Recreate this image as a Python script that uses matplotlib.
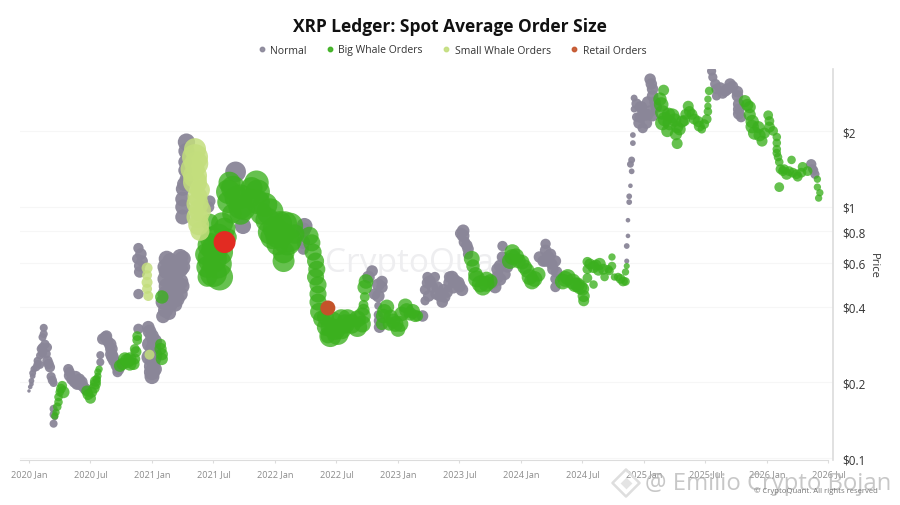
import matplotlib
matplotlib.use("Agg")
import matplotlib.pyplot as plt
from matplotlib.lines import Line2D

plt.rcParams['font.family'] = ['Open Sans', 'DejaVu Sans']

title = "XRP Ledger: Spot Average Order Size"
x_ticks = [2020.0, 2020.5, 2021.0, 2021.5, 2022.0, 2022.5, 2023.0, 2023.5, 2024.0, 2024.5, 2025.0, 2025.5, 2026.0, 2026.5]
x_labels = ["2020 Jan", "2020 Jul", "2021 Jan", "2021 Jul", "2022 Jan", "2022 Jul", "2023 Jan", "2023 Jul", "2024 Jan", "2024 Jul", "2025 Jan", "2025 Jul", "2026 Jan", "2026 Jul"]
y_ticks = [0.1, 0.2, 0.4, 0.6, 0.8, 1, 2]
y_labels = ["$0.1", "$0.2", "$0.4", "$0.6", "$0.8", "$1", "$2"]

normal_date = [
    2020.00, 2020.01, 2020.02, 2020.03, 2020.04, 2020.07, 2020.09, 2020.11, 2020.11, 2020.12,
    2020.15, 2020.15, 2020.17, 2020.19, 2020.20, 2020.20, 2020.21, 2020.33, 2020.35, 2020.39,
    2020.41, 2020.44, 2020.58, 2020.58, 2020.60, 2020.63, 2020.66, 2020.68, 2020.71, 2020.72,
    2020.89, 2020.97, 2021.00, 2021.01, 2021.00, 2021.00, 2021.01, 2020.89, 2020.92, 2020.90,
    2020.91, 2020.89, 2021.09, 2021.09, 2021.12, 2021.12, 2021.12, 2021.16, 2021.16, 2021.20,
    2021.23, 2021.24, 2021.25, 2021.19, 2021.15, 2021.21, 2021.28, 2021.27, 2021.28, 2021.25,
    2021.25, 2021.25, 2021.47, 2021.68, 2021.74, 2022.24, 2022.23, 2022.76, 2022.84, 2022.84,
    2022.84, 2022.85, 2023.20, 2023.22, 2023.22, 2023.24, 2023.30, 2023.28, 2023.34, 2023.36,
    2023.40, 2023.44, 2023.45, 2023.49, 2023.52, 2023.53, 2023.54, 2023.57, 2023.79, 2023.83,
    2023.85, 2023.89, 2023.81, 2024.20, 2024.20, 2024.28, 2024.24, 2024.29, 2024.28, 2024.15,
    2024.86, 2024.86, 2024.87, 2024.87, 2024.88, 2024.88, 2024.89, 2024.90, 2024.89, 2024.90,
    2024.91, 2024.91, 2024.92, 2024.92, 2024.94, 2024.99, 2024.97, 2024.98, 2025.03, 2025.05,
    2025.07, 2025.09, 2025.07, 2025.55, 2025.58, 2025.59, 2025.66, 2025.70, 2025.62, 2025.76,
    2025.77, 2025.77, 2026.36, 2026.39,
]
normal_price = [
    0.185, 0.192, 0.203, 0.212, 0.226, 0.237, 0.256, 0.276, 0.303, 0.330,
    0.276, 0.244, 0.230, 0.204, 0.157, 0.137, 0.146, 0.220, 0.206, 0.197,
    0.206, 0.193, 0.257, 0.241, 0.298, 0.306, 0.284, 0.252, 0.234, 0.220,
    0.327, 0.332, 0.306, 0.272, 0.232, 0.211, 0.248, 0.686, 0.609, 0.551,
    0.650, 0.450, 0.367, 0.418, 0.484, 0.622, 0.555, 0.531, 0.450, 0.430,
    0.565, 0.484, 0.622, 0.472, 0.410, 0.494, 1.814, 1.511, 1.290, 1.075,
    0.912, 1.180, 1.055, 1.380, 0.840, 0.840, 0.725, 0.526, 0.490, 0.442,
    0.404, 0.332, 0.368, 0.423, 0.468, 0.526, 0.526, 0.479, 0.442, 0.418,
    0.458, 0.526, 0.479, 0.499, 0.468, 0.804, 0.725, 0.680, 0.480, 0.582,
    0.699, 0.577, 0.526, 0.713, 0.609, 0.609, 0.648, 0.551, 0.480, 0.632,
    0.609, 0.699, 0.767, 0.886, 1.046, 1.103, 1.215, 1.387, 1.480, 1.539,
    1.797, 1.935, 2.716, 2.455, 2.280, 2.063, 2.280, 2.500, 2.620, 3.230,
    2.950, 2.620, 2.310, 3.480, 3.090, 2.770, 2.900, 3.090, 2.980, 2.880,
    2.350, 2.570, 1.480, 1.350,
]
normal_volume = [
    1.5, 2, 2.5, 2.5, 3, 3.5, 3.5, 4, 3.5, 3.5,
    4, 4.5, 4.5, 4, 3.5, 3.5, 3, 4.5, 5, 5,
    5, 5, 3.5, 3.5, 5, 5, 5.5, 5.5, 5, 4.5,
    4.5, 5.5, 6, 7, 7, 6.5, 7, 4.5, 5, 5,
    5, 4.5, 6, 6.5, 7, 7, 7, 7, 7, 7,
    7, 7, 7, 7, 6.5, 7, 7.5, 6, 6, 6.5,
    6.5, 6, 5, 9, 7, 7, 6, 5.5, 5.5, 5.5,
    3.5, 5, 5, 4, 4.5, 4.5, 4.5, 5, 5, 5,
    5, 5.5, 5.5, 5.5, 5.5, 5.5, 5, 5, 5.5, 5.5,
    4.5, 5, 5.5, 4.5, 5, 5, 5, 5, 4.5, 5,
    2.2, 2.5, 2, 2, 2.5, 2.5, 2, 2.5, 3, 3,
    2.5, 2.5, 3, 3, 4, 4.5, 5, 5, 5, 5,
    5, 5, 5, 4, 4.5, 4, 5, 5, 5, 5,
    5, 5, 4.5, 4,
]

# further gray readings along the same runs
normal_date_more = [
    2020.02, 2020.03, 2020.06, 2020.07, 2020.09, 2020.11, 2020.10, 2020.13, 2020.14, 2020.16,
    2020.12, 2020.18, 2020.20, 2020.20, 2020.33, 2020.37, 2020.38, 2020.41, 2020.43, 2020.46,
    2020.32, 2020.62, 2020.64, 2020.67, 2020.67, 2020.69, 2020.72, 2020.73, 2020.98, 2021.02,
    2020.98, 2021.02, 2020.98, 2021.00, 2021.02, 2020.90, 2020.88, 2021.11, 2021.14, 2021.11,
    2021.15, 2021.11, 2021.15, 2021.11, 2021.19, 2021.19, 2021.23, 2021.25, 2021.23, 2021.23,
    2021.19, 2021.14, 2021.28, 2021.27, 2021.26, 2021.25, 2021.46, 2022.23, 2022.23, 2022.79,
    2022.87, 2022.81, 2022.87, 2022.84, 2022.85, 2023.24, 2023.26, 2023.32, 2023.31, 2023.38,
    2023.42, 2023.42, 2023.46, 2023.50, 2023.37, 2023.25, 2023.53, 2023.56, 2023.57, 2023.51,
    2023.77, 2023.81, 2023.85, 2023.87, 2023.83, 2023.88, 2024.20, 2024.22, 2024.25, 2024.26,
    2024.28, 2024.18, 2024.94, 2024.97, 2025.01, 2025.02, 2025.05, 2025.06, 2025.07, 2025.10,
    2024.96, 2025.03, 2025.56, 2025.59, 2025.64, 2025.68, 2025.72, 2025.76, 2025.77, 2025.79,
    2026.37, 2026.38,
]
normal_price_more = [
    0.197, 0.218, 0.230, 0.244, 0.235, 0.262, 0.272, 0.284, 0.260, 0.237,
    0.312, 0.211, 0.199, 0.149, 0.213, 0.201, 0.211, 0.197, 0.201, 0.188,
    0.226, 0.303, 0.292, 0.272, 0.259, 0.244, 0.226, 0.226, 0.319, 0.292,
    0.284, 0.257, 0.252, 0.220, 0.226, 0.583, 0.622, 0.388, 0.438, 0.450,
    0.490, 0.517, 0.609, 0.577, 0.539, 0.565, 0.632, 0.577, 0.505, 0.450,
    0.408, 0.378, 1.670, 1.400, 1.235, 1.000, 1.000, 0.810, 0.680, 0.556,
    0.505, 0.450, 0.479, 0.372, 0.352, 0.499, 0.507, 0.480, 0.450, 0.438,
    0.499, 0.526, 0.510, 0.484, 0.468, 0.442, 0.768, 0.703, 0.648, 0.785,
    0.500, 0.565, 0.632, 0.539, 0.515, 0.609, 0.672, 0.632, 0.593, 0.565,
    0.517, 0.609, 2.580, 2.500, 2.330, 2.160, 2.410, 3.090, 2.770, 2.500,
    2.160, 2.330, 3.290, 2.950, 2.830, 2.950, 3.020, 2.770, 2.450, 2.280,
    1.420, 1.400,
]
normal_volume_more = [
    2, 3, 3.5, 3.5, 3.5, 4, 4, 4, 4, 4.5,
    3.5, 4, 3.5, 3.5, 5, 5, 5, 5, 5, 5,
    4.5, 5, 5, 5.5, 5.5, 5, 4.5, 5, 6, 6.5,
    6.5, 7, 7, 7, 6.5, 5, 4.5, 6.5, 7, 7,
    7, 7, 7, 7, 7, 7, 7, 6.5, 7, 6.5,
    6, 6, 7, 6, 6, 6.5, 5, 6.5, 5, 5,
    5, 5, 5, 4, 5, 5, 5, 5, 5, 5,
    5.5, 5, 5.5, 5.5, 5, 5, 5.5, 5, 4.5, 5,
    5.5, 5.5, 5, 5, 5.5, 5, 5, 5.5, 5, 5,
    4.5, 5, 4.5, 5, 5, 5, 5, 5, 5, 5,
    5, 5, 4, 4.5, 4.5, 5, 5, 5, 5, 4.5,
    4, 4,
]

big_date = [
    2020.21, 2020.23, 2020.24, 2020.27, 2020.28, 2020.48, 2020.50, 2020.54, 2020.55, 2020.56,
    2020.57, 2020.76, 2020.80, 2020.85, 2020.87, 2020.88, 2021.07, 2021.08, 2021.08, 2021.47,
    2021.49, 2021.49, 2021.50, 2021.55, 2021.45, 2021.55, 2021.59, 2021.63, 2021.62, 2021.72,
    2021.72, 2021.85, 2021.86, 2021.96, 2021.96, 2022.04, 2022.12, 2022.07, 2022.10, 2022.02,
    2022.28, 2022.31, 2022.34, 2022.35, 2022.35, 2022.36, 2022.38, 2022.43, 2022.45, 2022.51,
    2022.47, 2022.59, 2022.67, 2022.71, 2022.72, 2022.73, 2022.74, 2022.88, 2022.91, 2022.94,
    2022.98, 2023.02, 2023.06, 2023.12, 2023.16, 2023.60, 2023.64, 2023.69, 2023.75, 2023.91,
    2023.93, 2024.01, 2024.05, 2024.09, 2024.14, 2024.36, 2024.42, 2024.46, 2024.50, 2024.51,
    2024.54, 2024.59, 2024.54, 2024.59, 2024.64, 2024.68, 2024.74, 2024.74, 2024.76, 2024.83,
    2024.85, 2024.86, 2025.16, 2025.13, 2025.15, 2025.15, 2025.19, 2025.23, 2025.27, 2025.27,
    2025.31, 2025.36, 2025.39, 2025.44, 2025.47, 2025.51, 2025.52, 2025.53, 2025.82, 2025.86,
    2025.88, 2025.90, 2025.96, 2026.01, 2026.02, 2026.08, 2026.08, 2026.09, 2026.11, 2026.16,
    2026.20, 2026.21, 2026.25, 2026.29, 2026.10, 2026.41, 2026.41, 2026.43, 2026.42,
]
big_price = [
    0.147, 0.160, 0.175, 0.194, 0.183, 0.179, 0.173, 0.197, 0.206, 0.212,
    0.226, 0.237, 0.244, 0.237, 0.265, 0.295, 0.272, 0.248, 0.438, 0.870,
    0.748, 0.622, 0.543, 0.526, 0.577, 0.661, 0.820, 1.250, 1.046, 1.100,
    0.940, 1.250, 1.046, 0.957, 0.794, 0.861, 0.840, 0.609, 0.725, 0.767,
    0.767, 0.661, 0.565, 0.490, 0.418, 0.382, 0.358, 0.306, 0.306, 0.312,
    0.350, 0.358, 0.332, 0.368, 0.408, 0.479, 0.505, 0.368, 0.400, 0.365,
    0.342, 0.342, 0.404, 0.384, 0.368, 0.622, 0.517, 0.480, 0.505, 0.609,
    0.661, 0.603, 0.559, 0.505, 0.539, 0.517, 0.505, 0.490, 0.472, 0.423,
    0.521, 0.491, 0.605, 0.577, 0.593, 0.526, 0.582, 0.632, 0.526, 0.505,
    0.551, 0.582, 2.920, 2.690, 2.380, 2.160, 2.007, 2.310, 2.080, 1.789,
    2.190, 2.520, 2.340, 2.190, 2.040, 2.240, 2.520, 2.900, 2.640, 2.500,
    2.190, 1.970, 1.830, 2.320, 2.080, 1.900, 1.700, 1.580, 1.415, 1.350,
    1.540, 1.370, 1.320, 1.445, 1.200, 1.290, 1.200, 1.140, 1.085,
]
big_volume = [
    3, 3.5, 3.5, 4, 5, 4.5, 4.5, 4.5, 3.5, 3,
    3, 5, 6, 5, 4.5, 4, 5, 5, 5.5, 7,
    10, 12, 11, 11, 9, 11, 9, 9, 9, 10,
    9, 10, 10, 11, 10, 10, 11, 9, 11, 10,
    7.5, 7, 7, 7, 7, 7.5, 7, 6, 9, 9,
    8, 8, 8, 7, 4, 6, 6, 6, 6, 6,
    6.5, 6.5, 6, 6, 4.5, 6.5, 7, 7, 6, 6.5,
    6.5, 6, 6, 6.5, 6, 6.5, 6.5, 6, 5.5, 4.5,
    4, 3.5, 4, 5, 5, 3.5, 3.5, 3, 3, 4,
    3, 2.5, 4.5, 5.5, 6, 6, 5, 6, 5, 4.5,
    5, 4.5, 4.5, 4.5, 3.5, 4, 3, 3.5, 5, 5,
    5.5, 5.5, 4.5, 4, 4.5, 3.5, 3.5, 3.5, 4, 4.5,
    3.5, 4, 4, 4, 4, 3, 3, 3, 3,
]

# further green readings along the same runs
big_date_more = [
    2020.22, 2020.24, 2020.25, 2020.26, 2020.51, 2020.53, 2020.54, 2020.56, 2020.47, 2020.74,
    2020.78, 2020.82, 2020.82, 2020.86, 2020.86, 2020.88, 2021.07, 2021.08, 2021.51, 2021.44,
    2021.47, 2021.53, 2021.45, 2021.62, 2021.57, 2021.54, 2021.62, 2021.66, 2021.72, 2021.65,
    2021.69, 2021.75, 2021.80, 2021.81, 2021.86, 2021.92, 2021.89, 2021.94, 2021.98, 2022.00,
    2022.06, 2022.08, 2022.12, 2022.02, 2022.07, 2022.16, 2022.30, 2022.33, 2022.33, 2022.35,
    2022.41, 2022.41, 2022.45, 2022.49, 2022.54, 2022.57, 2022.62, 2022.67, 2022.71, 2022.72,
    2022.73, 2022.54, 2022.87, 2022.89, 2022.93, 2022.96, 2023.00, 2023.03, 2023.07, 2023.10,
    2023.14, 2023.61, 2023.63, 2023.67, 2023.72, 2023.72, 2023.93, 2023.96, 2023.98, 2024.03,
    2024.07, 2024.11, 2024.34, 2024.38, 2024.44, 2024.48, 2024.51, 2024.54, 2024.56, 2024.61,
    2024.63, 2024.67, 2024.71, 2024.72, 2024.79, 2024.81, 2024.85, 2025.14, 2025.17, 2025.20,
    2025.21, 2025.25, 2025.26, 2025.29, 2025.33, 2025.34, 2025.37, 2025.41, 2025.45, 2025.49,
    2025.52, 2025.52, 2025.84, 2025.86, 2025.88, 2025.93, 2025.94, 2025.98, 2026.02, 2026.05,
    2026.08, 2026.08, 2026.10, 2026.13, 2026.18, 2026.28, 2026.24, 2026.33, 2026.14,
]
big_price_more = [
    0.152, 0.167, 0.183, 0.189, 0.183, 0.190, 0.202, 0.220, 0.185, 0.233,
    0.248, 0.237, 0.248, 0.248, 0.272, 0.306, 0.284, 0.259, 0.680, 0.648,
    0.705, 0.593, 0.526, 0.759, 0.861, 0.767, 1.150, 1.190, 1.000, 0.940,
    1.085, 0.980, 1.085, 1.190, 1.150, 1.020, 0.940, 0.887, 0.760, 0.820,
    0.780, 0.860, 0.740, 0.710, 0.660, 0.780, 0.720, 0.609, 0.526, 0.450,
    0.332, 0.365, 0.332, 0.325, 0.325, 0.342, 0.342, 0.358, 0.342, 0.389,
    0.438, 0.358, 0.342, 0.384, 0.342, 0.352, 0.325, 0.375, 0.387, 0.375,
    0.368, 0.582, 0.539, 0.494, 0.494, 0.517, 0.632, 0.636, 0.609, 0.577,
    0.526, 0.517, 0.505, 0.526, 0.490, 0.480, 0.442, 0.565, 0.593, 0.587,
    0.560, 0.565, 0.565, 0.556, 0.526, 0.517, 0.505, 2.560, 2.240, 2.340,
    2.160, 2.220, 1.950, 2.040, 2.210, 2.340, 2.400, 2.240, 2.100, 2.140,
    2.400, 2.690, 2.550, 2.330, 2.090, 2.080, 1.930, 1.970, 2.200, 2.010,
    1.800, 1.640, 1.510, 1.390, 1.390, 1.370, 1.350, 1.390, 1.415,
]
big_volume_more = [
    3, 3.5, 3.5, 4, 4.5, 4.5, 4.5, 3, 4.5, 5,
    5.5, 5.5, 5.5, 4.5, 4, 4, 4.5, 5, 11, 9,
    10, 12, 8, 7, 9, 10, 10, 10, 10, 8,
    10, 9, 8, 9, 10, 10, 9, 10, 10, 10,
    10, 10, 10, 9, 9, 8, 7, 7, 7, 7,
    7, 7, 8, 8.5, 8, 8, 8, 7, 7, 5,
    4, 8, 5, 6, 5.5, 6, 6, 6, 6, 5.5,
    5, 5.5, 6, 7, 6.5, 6, 6.5, 6.5, 6, 6,
    6.5, 6.5, 6.5, 6.5, 6, 6, 5, 4, 4.5, 4.5,
    4.5, 4.5, 3.5, 3.5, 3.5, 4, 3.5, 6, 6, 5.5,
    6, 5.5, 5, 5, 4.5, 4.5, 4.5, 4.5, 4.5, 4,
    3.5, 3, 5, 5, 5.5, 5, 5, 4.5, 4, 4,
    3.5, 3.5, 3.5, 4, 4, 4, 4, 4, 4,
]

small_date = [2021.35, 2021.35, 2021.33, 2021.35, 2021.39, 2021.37, 2021.37, 2021.39, 2020.98, 2020.96, 2020.96, 2020.97,
              2021.36, 2021.35, 2021.37, 2021.39, 2021.38, 2020.96, 2020.96]
small_price = [1.700, 1.580, 1.416, 1.256, 1.170, 1.030, 0.912, 0.800, 0.258, 0.571, 0.501, 0.442,
               1.490, 1.330, 1.100, 0.970, 0.850, 0.535, 0.472]
small_volume = [11, 13, 12, 12, 10, 11, 11, 9.5, 5, 5.5, 5.5, 5,
                12, 12, 10, 11, 10.5, 5, 5]

retail_date = [2021.59, 2022.43]
retail_price = [0.725, 0.396]
retail_volume = [11, 7.5]

GRAY, GREEN, PALE, RETAIL = '#8a8698', '#3bb01e', '#c3de7d', '#c4532a'
RETAIL_EACH = ['#e22b22', '#c4532a']


def area(volume, k=1.0):
    return [(2 * v * k * 0.72) ** 2 for v in volume]


fig = plt.figure(figsize=(9, 5.06), dpi=100, facecolor='white')
ax = fig.add_axes([20 / 900, 45 / 506, 813 / 900, 391 / 506])
ax.set_yscale('log')
ax.set_xlim(2019.927, 2026.537)
ax.set_ylim(0.0982, 3.546)

ax.scatter(normal_date + normal_date_more, normal_price + normal_price_more,
           s=area(normal_volume + normal_volume_more, 1.15), c=GRAY, alpha=0.95, lw=0, zorder=3)
ax.scatter(big_date + big_date_more, big_price + big_price_more,
           s=area(big_volume + big_volume_more, 1.22), c=GREEN, alpha=0.78, lw=0, zorder=4)
ax.scatter(small_date, small_price, s=area(small_volume), c=PALE, alpha=0.85, lw=0, zorder=5)
ax.scatter(retail_date, retail_price, s=area(retail_volume), c=RETAIL_EACH, alpha=1, lw=0, zorder=6)

for side in ('top', 'left'):
    ax.spines[side].set_visible(False)
ax.spines['right'].set_color('#dcdcdc')
ax.spines['bottom'].set_color('#dcdcdc')
ax.spines['right'].set_linewidth(1.2)
ax.spines['bottom'].set_bounds(2019.927, 2026.5)

ax.set_xticks(x_ticks)
ax.set_xticklabels(x_labels, fontsize=6.6, color='#8c8c8c')
ax.tick_params(axis='x', length=2.5, color='#dcdcdc', pad=4)
ax.yaxis.tick_right()
ax.set_yticks(y_ticks)
ax.set_yticklabels(y_labels, fontsize=8.4, color='#333333')
ax.minorticks_off()
ax.tick_params(axis='y', length=0, pad=7)
ax.grid(axis='y', color='#f6f6f6', lw=0.8, zorder=0)
ax.set_axisbelow(True)

fig.text(873 / 900, 1 - 266 / 506, "Price", rotation=-90, fontsize=8, color='#333333', ha='center', va='center')
fig.text(0.5, 1 - 27 / 506, title, fontsize=12.5, fontweight='bold', color='#111111', ha='center', va='center')

handles = [Line2D([], [], ls='', marker='o', ms=3.2, color=c, alpha=0.9) for c in (GRAY, GREEN, PALE, RETAIL)]
fig.legend(handles, ["Normal", "Big Whale Orders", "Small Whale Orders", "Retail Orders"],
           loc='center', bbox_to_anchor=(452 / 900, 1 - 51 / 506), ncol=4, frameon=False,
           fontsize=7.5, handlelength=0.8, handletextpad=0.4, columnspacing=1.85, labelcolor='#333333')

# faint logo watermark behind the data
ax.text(426 / 900, 1 - 263 / 506, "CryptoQuant", fontsize=24, color='#eeeef0', ha='center', va='center',
        transform=fig.transFigure, zorder=1)

# overlay text at the bottom of the picture
ov = fig.add_axes([0, 0, 1, 1], facecolor='none')
ov.set_xlim(0, 900)
ov.set_ylim(506, 0)
ov.axis('off')
ov.scatter([626], [484], marker='D', s=190, facecolor='none', edgecolor='#dedede', lw=1.8)
ov.scatter([626], [484], marker='D', s=36, facecolor='#e4e4e4', lw=0)
ov.text(645, 484, "@ Emilio Crypto Bojan", fontsize=17.2, color='#b0b0b0', alpha=0.7, va='center', ha='left')
ov.text(878, 491, "© CryptoQuant. All rights reserved", fontsize=5.6, color='#777777', va='center', ha='right')

fig.savefig('out.png', dpi=100)
